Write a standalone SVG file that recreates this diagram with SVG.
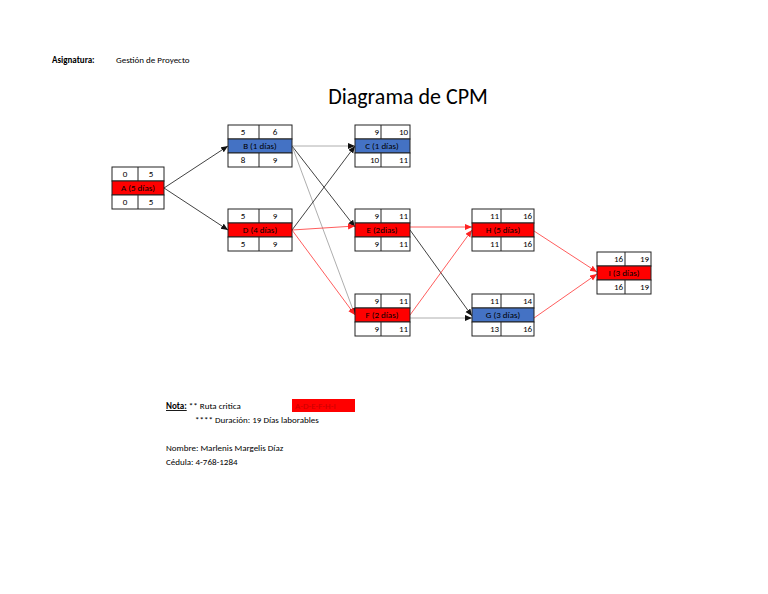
<svg xmlns="http://www.w3.org/2000/svg" width="768" height="594" viewBox="0 0 768 594">
<defs>
<style>
text{font-family:Calibri,"Liberation Sans",Arial,sans-serif;font-size:9px;fill:#000}
.c{fill:#fff;stroke:#222;stroke-width:1}
.r{fill:#f00;stroke:#222;stroke-width:1}
.b{fill:#4472c4;stroke:#222;stroke-width:1}
.m{text-anchor:middle}
.e{text-anchor:end}
.k{stroke:#111;stroke-width:0.8;fill:none;marker-end:url(#ak)}
.g{stroke:#999;stroke-width:0.8;fill:none;marker-end:url(#ak)}
.rd{stroke:#f33;stroke-width:0.8;fill:none;marker-end:url(#ar)}
</style>
<marker id="ak" markerWidth="8" markerHeight="8" refX="7" refY="3" orient="auto" markerUnits="userSpaceOnUse"><path d="M0,0 L7,3 L0,6z" fill="#111"/></marker>
<marker id="ar" markerWidth="8" markerHeight="8" refX="7" refY="3" orient="auto" markerUnits="userSpaceOnUse"><path d="M0,0 L7,3 L0,6z" fill="#f22"/></marker>
</defs>
<rect width="768" height="594" fill="#fff"/>
<text x="52" y="63" font-weight="bold">Asignatura:</text>
<text x="116" y="63">Gestión de Proyecto</text>
<text x="408" y="104" class="m" style="font-size:22px">Diagrama de CPM</text>
<g id="connectors">
<line class="k" x1="164" y1="188" x2="228" y2="146"/>
<line class="k" x1="164" y1="188" x2="228" y2="230"/>
<line class="g" x1="292" y1="146" x2="355" y2="146"/>
<line class="k" x1="292" y1="146" x2="355" y2="227"/>
<line class="g" x1="292" y1="146" x2="355" y2="315"/>
<line class="k" x1="292" y1="230" x2="355" y2="146"/>
<line class="rd" x1="292" y1="230" x2="355" y2="226"/>
<line class="rd" x1="292" y1="230" x2="355" y2="315"/>
<line class="rd" x1="410" y1="227" x2="472" y2="227"/>
<line class="k" x1="410" y1="230" x2="472" y2="316"/>
<line class="rd" x1="410" y1="315" x2="472" y2="230"/>
<line class="g" x1="410" y1="318" x2="472" y2="318"/>
<line class="rd" x1="534" y1="231" x2="597" y2="272"/>
<line class="rd" x1="534" y1="318" x2="597" y2="274"/>
</g>
<g id="A"><rect class="c" x="112" y="167" width="52" height="14"/><rect class="r" x="112" y="181" width="52" height="14"/><rect class="c" x="112" y="195" width="52" height="14"/><line x1="138" y1="167" x2="138" y2="181" stroke="#222"/><line x1="138" y1="195" x2="138" y2="209" stroke="#222"/>
<text x="125" y="177" class="m">0</text><text x="151" y="177" class="m">5</text><text x="138" y="191" class="m">A (5 días)</text><text x="125" y="205" class="m">0</text><text x="151" y="205" class="m">5</text></g>
<g id="B"><rect class="c" x="228" y="125" width="64" height="14"/><rect class="b" x="228" y="139" width="64" height="14"/><rect class="c" x="228" y="153" width="64" height="14"/><line x1="259" y1="125" x2="259" y2="139" stroke="#222"/><line x1="259" y1="153" x2="259" y2="167" stroke="#222"/>
<text x="243" y="135" class="m">5</text><text x="275" y="135" class="m">6</text><text x="260" y="149" class="m">B (1 días)</text><text x="243" y="163" class="m">8</text><text x="275" y="163" class="m">9</text></g>
<g id="D"><rect class="c" x="228" y="209" width="64" height="14"/><rect class="r" x="228" y="223" width="64" height="14"/><rect class="c" x="228" y="237" width="64" height="14"/><line x1="259" y1="209" x2="259" y2="223" stroke="#222"/><line x1="259" y1="237" x2="259" y2="251" stroke="#222"/>
<text x="243" y="219" class="m">5</text><text x="275" y="219" class="m">9</text><text x="260" y="233" class="m">D (4 días)</text><text x="243" y="247" class="m">5</text><text x="275" y="247" class="m">9</text></g>
<g id="C"><rect class="c" x="355" y="125" width="55" height="14"/><rect class="b" x="355" y="139" width="55" height="14"/><rect class="c" x="355" y="153" width="55" height="14"/><line x1="381" y1="125" x2="381" y2="139" stroke="#222"/><line x1="381" y1="153" x2="381" y2="167" stroke="#222"/>
<text x="379" y="135" class="e">9</text><text x="408" y="135" class="e">10</text><text x="382" y="149" class="m">C (1 días)</text><text x="379" y="163" class="e">10</text><text x="408" y="163" class="e">11</text></g>
<g id="E"><rect class="c" x="355" y="209" width="55" height="14"/><rect class="r" x="355" y="223" width="55" height="14"/><rect class="c" x="355" y="237" width="55" height="14"/><line x1="381" y1="209" x2="381" y2="223" stroke="#222"/><line x1="381" y1="237" x2="381" y2="251" stroke="#222"/>
<text x="379" y="219" class="e">9</text><text x="408" y="219" class="e">11</text><text x="382" y="233" class="m">E (2dias)</text><text x="379" y="247" class="e">9</text><text x="408" y="247" class="e">11</text></g>
<g id="F"><rect class="c" x="355" y="294" width="55" height="14"/><rect class="r" x="355" y="308" width="55" height="14"/><rect class="c" x="355" y="322" width="55" height="14"/><line x1="381" y1="294" x2="381" y2="308" stroke="#222"/><line x1="381" y1="322" x2="381" y2="336" stroke="#222"/>
<text x="379" y="304" class="e">9</text><text x="408" y="304" class="e">11</text><text x="382" y="318" class="m">F (2 días)</text><text x="379" y="332" class="e">9</text><text x="408" y="332" class="e">11</text></g>
<g id="H"><rect class="c" x="472" y="209" width="62" height="14"/><rect class="r" x="472" y="223" width="62" height="14"/><rect class="c" x="472" y="237" width="62" height="14"/><line x1="501" y1="209" x2="501" y2="223" stroke="#222"/><line x1="501" y1="237" x2="501" y2="251" stroke="#222"/>
<text x="499" y="219" class="e">11</text><text x="532" y="219" class="e">16</text><text x="503" y="233" class="m">H (5 días)</text><text x="499" y="247" class="e">11</text><text x="532" y="247" class="e">16</text></g>
<g id="G"><rect class="c" x="472" y="294" width="62" height="14"/><rect class="b" x="472" y="308" width="62" height="14"/><rect class="c" x="472" y="322" width="62" height="14"/><line x1="501" y1="294" x2="501" y2="308" stroke="#222"/><line x1="501" y1="322" x2="501" y2="336" stroke="#222"/>
<text x="499" y="304" class="e">11</text><text x="532" y="304" class="e">14</text><text x="503" y="318" class="m">G (3 días)</text><text x="499" y="332" class="e">13</text><text x="532" y="332" class="e">16</text></g>
<g id="I"><rect class="c" x="597" y="252" width="54" height="14"/><rect class="r" x="597" y="266" width="54" height="14"/><rect class="c" x="597" y="280" width="54" height="14"/><line x1="625" y1="252" x2="625" y2="266" stroke="#222"/><line x1="625" y1="280" x2="625" y2="294" stroke="#222"/>
<text x="623" y="262" class="e">16</text><text x="649" y="262" class="e">19</text><text x="624" y="276" class="m">I (3 días)</text><text x="623" y="290" class="e">16</text><text x="649" y="290" class="e">19</text></g>
<g id="notes">
<rect x="292" y="399" width="63" height="13" fill="#f00"/>
<text x="166" y="409"><tspan font-weight="bold" text-decoration="underline">Nota:</tspan> ** Ruta critica</text>
<text x="295" y="409" style="fill:#c00">A-D-E-F-H-I</text>
<text x="195" y="423">**** Duración: 19 Días laborables</text>
<text x="166" y="451">Nombre: Marlenis Margelis Díaz</text>
<text x="166" y="465">Cédula: 4-768-1284</text>
</g>
</svg>
